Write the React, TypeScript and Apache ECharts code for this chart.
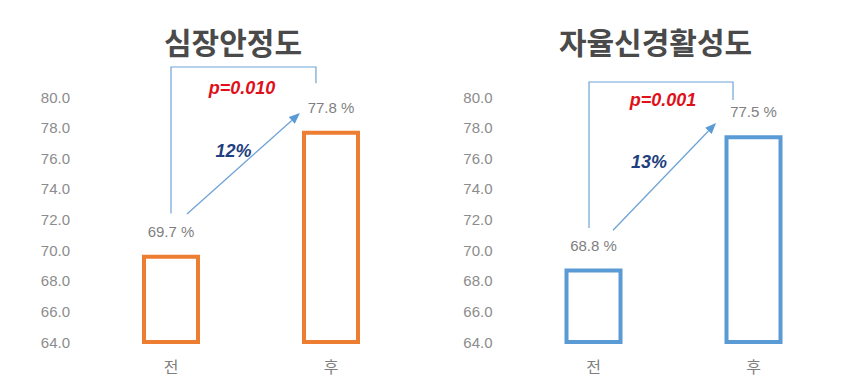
import React, { useEffect, useRef } from "react";
import * as echarts from "echarts";

const categories = ["전", "후"];
const titles = ["심장안정도", "자율신경활성도"];
const heartValues = [69.7, 77.8];
const autonomicValues = [68.8, 77.5];
const pValues = ["p=0.010", "p=0.001"];
const changePct = ["12%", "13%"];
const yMin = 64;
const yMax = 80;
const yInterval = 2;

const colors = ["#ED7D31", "#5B9BD5"];
const gridLefts = [91, 513.5];

// annotation geometry (category position, value) per chart
const anno = [
  {
    bracket: { x0: 0.0, x1: 0.906, top: 81.96, bottomL: 72.4, bottomR: 80.9 },
    arrow: { x0: 0.1, v0: 72.36, x1: 0.806, v1: 78.95 },
    p: { x: 0.444, v: 80.6 },
    pct: { x: 0.39, v: 76.5 },
  },
  {
    bracket: { x0: -0.028, x1: 0.872, top: 80.98, bottomL: 71.45, bottomR: 79.8 },
    arrow: { x0: 0.122, v0: 71.3, x1: 0.766, v1: 78.3 },
    p: { x: 0.434, v: 79.8 },
    pct: { x: 0.347, v: 75.76 },
  },
];

export default function App() {
  const ref = useRef<HTMLDivElement>(null);
  useEffect(() => {
    if (!ref.current) return;
    const chart = echarts.init(ref.current, undefined, { renderer: "svg" });
    const seriesData = [heartValues, autonomicValues];
    const font = "'Liberation Sans', Arial, sans-serif";
    chart.setOption({
      animation: false,
      backgroundColor: "#ffffff",
      title: titles.map((t, i) => ({
        text: t,
        left: gridLefts[i] + 137,
        top: 21,
        textAlign: "center",
        textStyle: {
          fontSize: 30,
          fontWeight: "bold",
          color: "#4a4a4a",
          fontFamily: "'Noto Sans CJK KR', sans-serif",
        },
      })),
      grid: gridLefts.map((l) => ({ left: l, width: 320, top: 97, height: 245 })),
      xAxis: [0, 1].map((i) => ({
        type: "category",
        gridIndex: i,
        data: categories,
        axisLine: { show: false },
        axisTick: { show: false },
        axisLabel: {
          margin: 16,
          fontSize: 16,
          color: "#7f7f7f",
          fontFamily: "'Noto Sans CJK KR', sans-serif",
        },
      })),
      yAxis: [0, 1].map((i) => ({
        type: "value",
        gridIndex: i,
        min: yMin,
        max: yMax,
        interval: yInterval,
        axisLine: { show: false },
        axisTick: { show: false },
        splitLine: { show: false },
        axisLabel: {
          margin: 21,
          fontSize: 15,
          color: "#8c8c8c",
          fontFamily: font,
          formatter: (v: number) => v.toFixed(1),
        },
      })),
      series: [0, 1].map((i) => ({
        type: "bar",
        xAxisIndex: i,
        yAxisIndex: i,
        data: seriesData[i],
        barWidth: 58,
        itemStyle: { color: "#ffffff", borderColor: colors[i], borderWidth: 4 },
        label: {
          show: true,
          position: "top",
          distance: 16,
          fontSize: 15,
          color: "#7f7f7f",
          fontFamily: font,
          formatter: (p: any) => `${p.value.toFixed(1)} %`,
        },
      })),
    });

    const graphics: any[] = [];
    [0, 1].forEach((i) => {
      const p0 = chart.convertToPixel({ xAxisIndex: i, yAxisIndex: i }, [0, yMin]) as number[];
      const p1 = chart.convertToPixel({ xAxisIndex: i, yAxisIndex: i }, [1, yMax]) as number[];
      const X = (c: number) => p0[0] + (p1[0] - p0[0]) * c;
      const Y = (v: number) => p0[1] + (p1[1] - p0[1]) * ((v - yMin) / (yMax - yMin));
      const a = anno[i];
      const lineColor = "#6FA3D6";
      graphics.push({
        type: "polyline",
        shape: {
          points: [
            [X(a.bracket.x0), Y(a.bracket.bottomL)],
            [X(a.bracket.x0), Y(a.bracket.top)],
            [X(a.bracket.x1), Y(a.bracket.top)],
            [X(a.bracket.x1), Y(a.bracket.bottomR)],
          ],
        },
        style: { stroke: lineColor, lineWidth: 1.2, fill: null },
      });
      const sx = X(a.arrow.x0), sy = Y(a.arrow.v0), ex = X(a.arrow.x1), ey = Y(a.arrow.v1);
      const ang = Math.atan2(ey - sy, ex - sx);
      const L = 11, W = 4.5;
      const bx = ex - L * Math.cos(ang), by = ey - L * Math.sin(ang);
      graphics.push({
        type: "line",
        shape: { x1: sx, y1: sy, x2: bx, y2: by },
        style: { stroke: lineColor, lineWidth: 1.3 },
      });
      graphics.push({
        type: "polygon",
        shape: {
          points: [
            [ex, ey],
            [bx + W * Math.sin(ang), by - W * Math.cos(ang)],
            [bx - W * Math.sin(ang), by + W * Math.cos(ang)],
          ],
        },
        style: { fill: "#5B9BD5" },
      });
      graphics.push({
        type: "text",
        x: X(a.p.x),
        y: Y(a.p.v),
        style: {
          text: pValues[i],
          fill: "#E0101A",
          font: `italic bold 18px ${font}`,
          textAlign: "center",
          textVerticalAlign: "middle",
        },
      });
      graphics.push({
        type: "text",
        x: X(a.pct.x),
        y: Y(a.pct.v),
        style: {
          text: changePct[i],
          fill: "#1F3F80",
          font: `italic bold 18px ${font}`,
          textAlign: "center",
          textVerticalAlign: "middle",
        },
      });
    });
    chart.setOption({ graphic: graphics });
    return () => chart.dispose();
  }, []);
  return (
    <div
      ref={ref}
      style={{ position: "fixed", left: 0, top: 0, width: 860, height: 386, background: "#fff" }}
    />
  );
}
